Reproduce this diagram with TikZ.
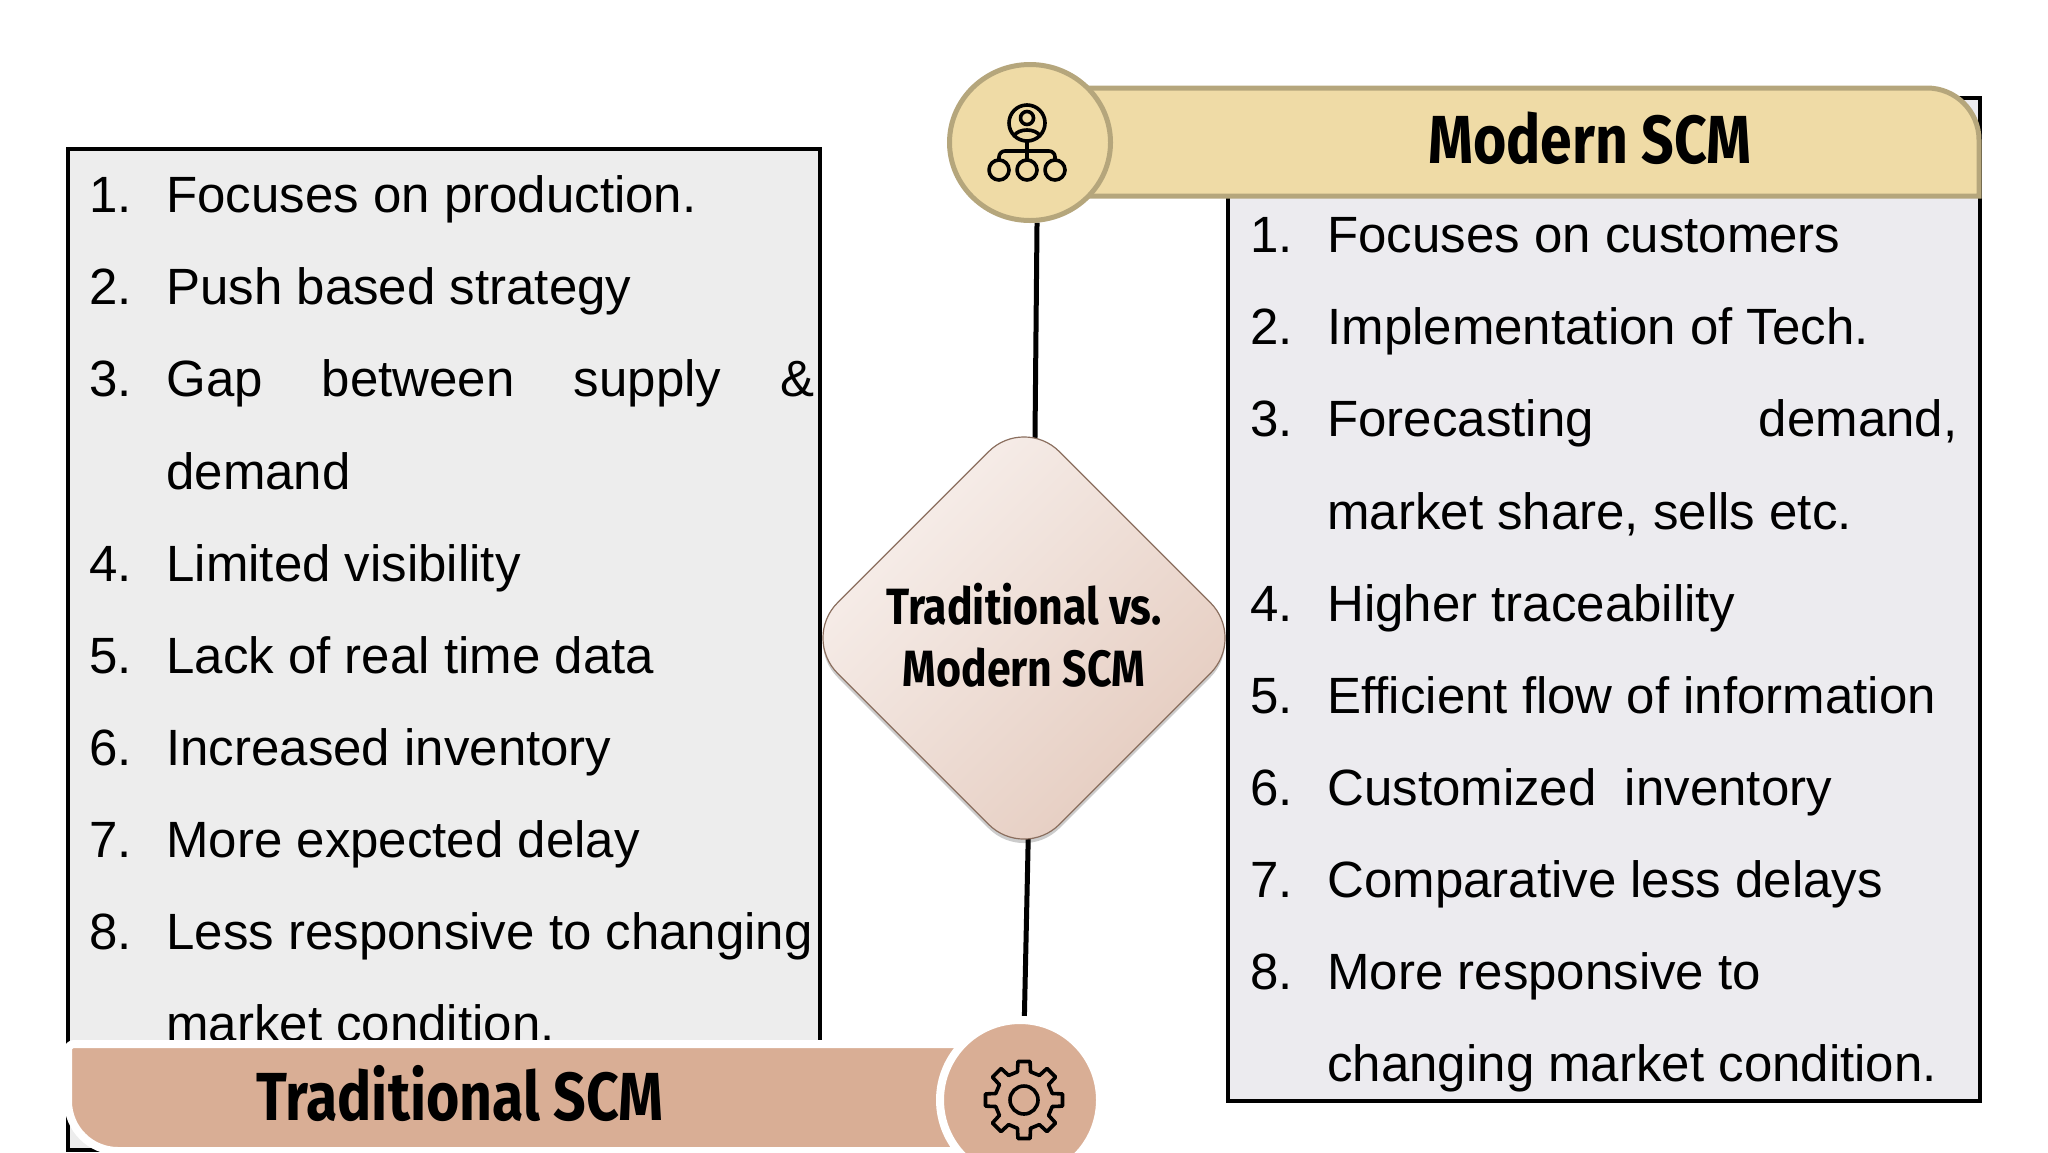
\documentclass[tikz,border=0pt]{standalone}
\usepackage{fontspec}
\setmainfont{Liberation Sans}
\newfontfamily\titlefont[FakeStretch=0.84]{Fira Sans}
\usetikzlibrary{shapes.geometric,shadows,backgrounds}
\definecolor{leftgrey}{HTML}{EDEDED}
\definecolor{rightgrey}{HTML}{ECEBEF}
\definecolor{sandfill}{HTML}{EFDBA6}
\definecolor{sandline}{HTML}{B5A67C}
\definecolor{clayfill}{HTML}{D9AE95}
\definecolor{diamondline}{HTML}{8A6E5E}
\definecolor{diamondtop}{HTML}{F8F1EE}
\definecolor{diamondbottom}{HTML}{E4CABD}
\tikzset{
  listbox/.style={draw=black, line width=2pt, inner sep=0pt, minimum width=376pt},
  listtext/.style={anchor=base west, inner sep=0pt, font=\fontsize{25.5}{30}\selectfont},
  spine/.style={draw=black, line width=2.5pt},
  sandline/.style={draw=sandline, fill=sandfill, line width=2.5pt},
  clayline/.style={draw=white, fill=clayfill, line width=4pt},
  iconline/.style={draw=black, line width=1.8pt, line cap=round, line join=round},
  bandtitle/.style={inner sep=0pt, font=\titlefont\bfseries\fontsize{34}{40}\selectfont},
  centrediamond/.style={diamond, aspect=1, draw=diamondline, line width=.6pt, rounded corners=25pt,
    minimum size=222pt, inner sep=0pt,
    top color=diamondtop, bottom color=diamondbottom, shading angle=45,
    drop shadow={shadow xshift=0pt, shadow yshift=-2pt, opacity=.2, fill=black}},
  centrelabel/.style={inner sep=0pt, align=center, font=\titlefont\bfseries\fontsize{25.5}{31}\selectfont},
}
\begin{document}
\begin{tikzpicture}[x=0.5pt, y=-0.5pt]
  \useasboundingbox (0,0) rectangle (2048,1152);
  % list boxes
  \node[listbox, fill=leftgrey, minimum height=500.5pt] (leftbox) at (444,649.5) {};
  \node[listbox, fill=rightgrey, minimum height=501.5pt] (rightbox) at (1604,599.5) {};
  % traditional list
  \path[every node/.style={listtext}]
    (89,212) node (lnum1){1.}    (166,212) node (ltxt1){Focuses on production.}
    (89,304) node (lnum2){2.}    (166,304) node (ltxt2){Push based strategy}
    (89,396) node (lnum3){3.}    (166,396) node (ltxt3){\hbox to 324pt{Gap\hfill between\hfill supply\hfill \&}}
    (166,489) node (ltxt3b){demand}
    (89,581) node (lnum4){4.}    (166,581) node (ltxt4){Limited visibility}
    (89,673) node (lnum5){5.}    (166,673) node (ltxt5){Lack of real time data}
    (89,765) node (lnum6){6.}    (166,765) node (ltxt6){Increased inventory}
    (89,857) node (lnum7){7.}    (166,857) node (ltxt7){More expected delay}
    (89,949) node (lnum8){8.}    (166,949) node (ltxt8){Less responsive to changing}
    (166,1041) node (ltxt8b){market condition.};
  % modern list
  \path[every node/.style={listtext}]
    (1250,252) node (rnum1){1.}  (1327,252) node (rtxt1){Focuses on customers}
    (1250,344) node (rnum2){2.}  (1327,344) node (rtxt2){Implementation of Tech.}
    (1250,436) node (rnum3){3.}  (1327,436) node (rtxt3){\hbox to 315pt{Forecasting\hfill demand,}}
    (1327,529) node (rtxt3b){market share, sells etc.}
    (1250,621) node (rnum4){4.}  (1327,621) node (rtxt4){Higher traceability}
    (1250,713) node (rnum5){5.}  (1327,713) node (rtxt5){Efficient flow of information}
    (1250,805) node (rnum6){6.}  (1327,805) node (rtxt6){Customized\ \ inventory}
    (1250,897) node (rnum7){7.}  (1327,897) node (rtxt7){Comparative less delays}
    (1250,989) node (rnum8){8.}  (1327,989) node (rtxt8){More responsive to}
    (1327,1081) node (rtxt8b){changing market condition.};
  % bands
  \draw[sandline] (1030,88) [rounded corners=26pt] -- (1979,88) [sharp corners] -- (1979,196) -- (1030,196);
  \node[bandtitle] (moderntitle) at (1590,138) {Modern SCM};
  \draw[clayline] (1020,1044) [rounded corners=3pt] -- (68,1044) [rounded corners=25pt] -- (68,1151) [sharp corners] -- (1020,1151);
  \node[bandtitle] (tradtitle) at (460,1093) {Traditional SCM};
  % icons
  \node[ellipse, sandline, minimum width=80.5pt, minimum height=78pt, inner sep=0pt] (modernicon) at (1030,142.5) {};
  \node[circle, clayline, minimum size=80pt, inner sep=0pt,
    drop shadow={shadow xshift=1pt, shadow yshift=0pt, opacity=.12, fill=black}] (tradicon) at (1020,1100) {};
  \draw[iconline] (1027,123) circle (18);
  \draw[iconline] (1027,118) circle (6.5);
  \draw[iconline] (1014,136) .. controls (1018,128) and (1036,128) .. (1040,136);
  \draw[iconline] (1027,141) -- (1027,160);
  \draw[iconline, rounded corners=3pt] (999,160) -- (999,151) -- (1055,151) -- (1055,160);
  \foreach \cx in {999,1027,1055}
    \draw[iconline] (\cx,170) circle (10);
  \draw[iconline, shift={(1024,1100)}] (-13:29)
    \foreach \a in {0,45,...,315}{ -- (\a-13:29) -- (\a-9:39) -- (\a+9:39) -- (\a+13:29)} -- cycle;
  \draw[iconline] (1024,1100) circle (14);
  % centre
  \node[centrediamond] (centre) at (1024,638) {};
  \node[centrelabel] (centretext) at (1024,635) {Traditional vs.\\Modern SCM};
  \begin{pgfonlayer}{background}
    \draw[spine, shorten >=-14pt] (modernicon.-85) -- (centre.87.5);
    \draw[spine, shorten <=-14pt] (centre.-89.5) -- (tradicon.87);
  \end{pgfonlayer}
\end{tikzpicture}
\end{document}
